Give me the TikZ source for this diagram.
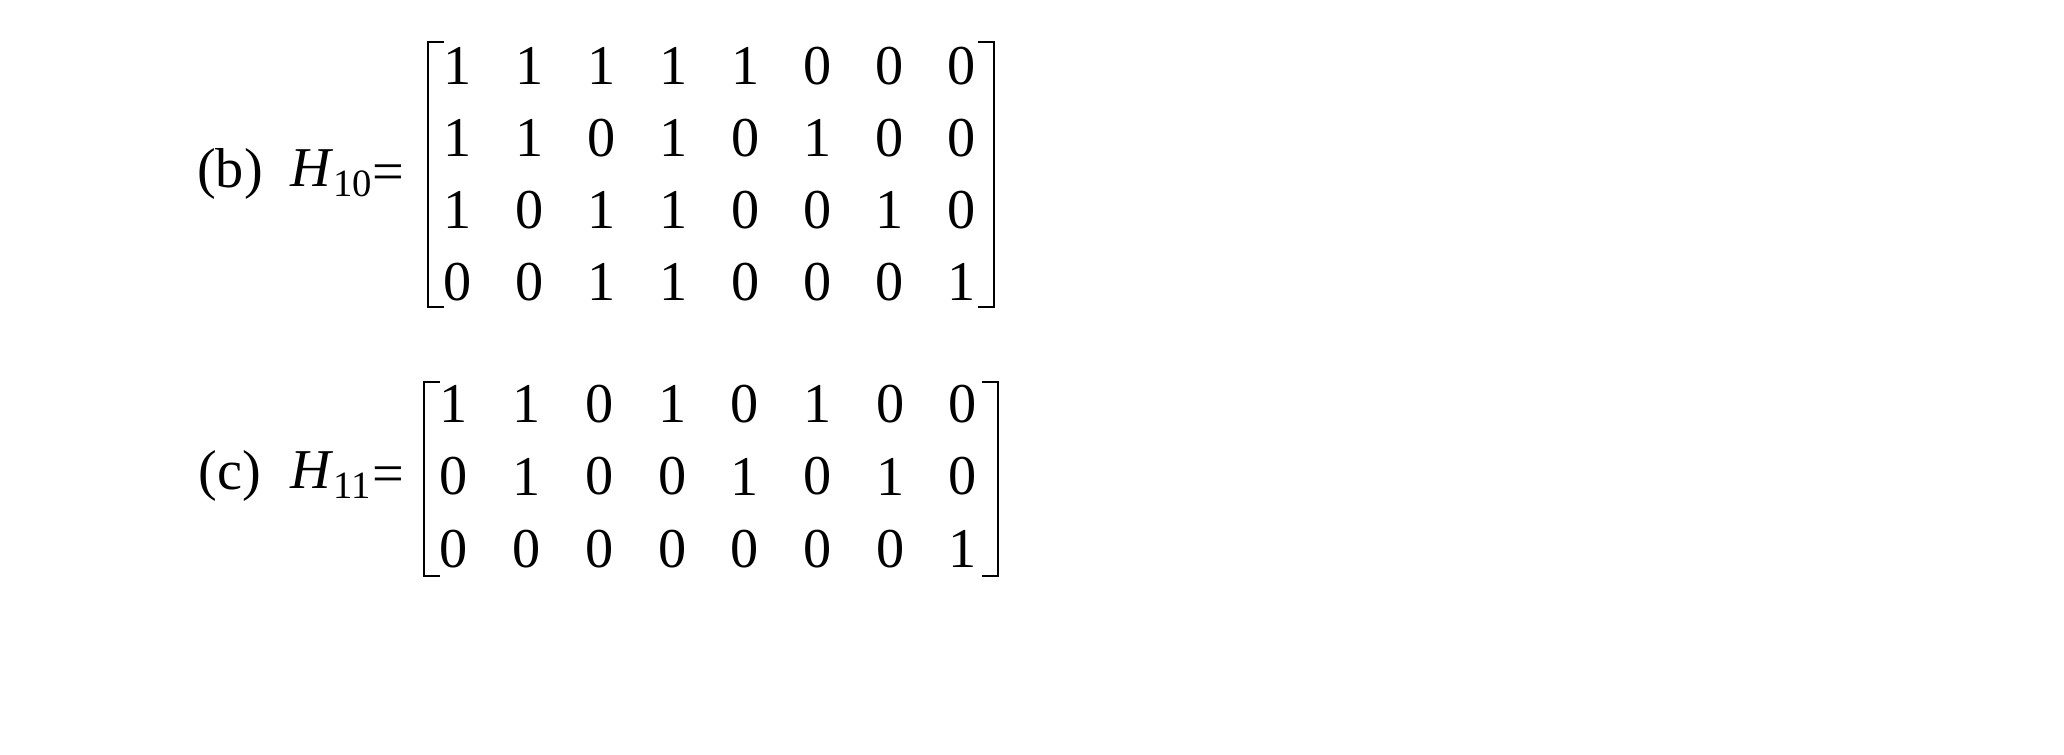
\documentclass[tikz,border=0pt]{standalone}
\usepackage{fontspec}
\setmainfont{Liberation Serif}
\begin{document}
\begin{tikzpicture}[x=0.02cm,y=-0.02cm,
  txt/.style={inner sep=0pt,font=\fontsize{32}{38}\selectfont},
  brk/.style={line width=1.6pt}]
\useasboundingbox (0,0) rectangle (2064,754);
% matrix b
\def\rowsb{{1,1,1,1,1,0,0,0},{1,1,0,1,0,1,0,0},{1,0,1,1,0,0,1,0},{0,0,1,1,0,0,0,1}}
\foreach \r [count=\i] in {{1,1,1,1,1,0,0,0},{1,1,0,1,0,1,0,0},{1,0,1,1,0,0,1,0},{0,0,1,1,0,0,0,1}}{
  \foreach \v [count=\j] in \r {
    \pgfmathsetmacro\xx{458+(\j-1)*72}
    \pgfmathsetmacro\yy{66+(\i-1)*72}
    \node[txt] (b\i\j) at (\xx,\yy) {\v};
  }}
\draw[brk] (444,42) -- (428,42) -- (428,307) -- (444,307);
\draw[brk] (978,42) -- (994,42) -- (994,307) -- (978,307);
\node[txt] (lb) at (230,174) {(b)};
\node[txt,anchor=base west] (hb) at (290,186) {\textit{H}\raisebox{-6pt}{\fontsize{22}{24}\selectfont 10}};
\node[txt] (eb) at (388,178) {=};
% matrix c
\foreach \r [count=\i] in {{1,1,0,1,0,1,0,0},{0,1,0,0,1,0,1,0},{0,0,0,0,0,0,0,1}}{
  \foreach \v [count=\j] in \r {
    \pgfmathsetmacro\xx{454+(\j-1)*72.7}
    \pgfmathsetmacro\yy{404+(\i-1)*72.5}
    \node[txt] (c\i\j) at (\xx,\yy) {\v};
  }}
\draw[brk] (440,382) -- (424,382) -- (424,576) -- (440,576);
\draw[brk] (982,382) -- (998,382) -- (998,576) -- (982,576);
\node[txt] (lc) at (230,476) {(c)};
\node[txt,anchor=base west] (hc) at (290,488) {\textit{H}\raisebox{-6pt}{\fontsize{22}{24}\selectfont 11}};
\node[txt] (ec) at (388,480) {=};
\end{tikzpicture}
\end{document}
